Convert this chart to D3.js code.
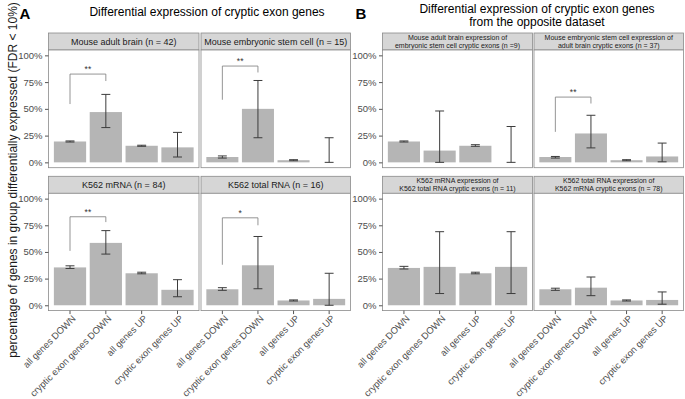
<!DOCTYPE html>
<html>
<head>
<meta charset="utf-8">
<script src="https://cdn.jsdelivr.net/npm/d3@7"></script>
<style>
  body { margin: 0; background: #fff; }
  svg { display: block; font-family: "Liberation Sans", Arial, Helvetica, sans-serif; }
</style>
</head>
<body>
<div id="chart"></div>
<script>
// Differential expression of cryptic exon genes - 8 facets, 4 bars each

const categories = ["all genes DOWN", "cryptic exon genes DOWN", "all genes UP", "cryptic exon genes UP"];

const facetLabels = [
  ["Mouse adult brain (n = 42)"],
  ["Mouse embryonic stem cell (n = 15)"],
  ["K562 mRNA (n = 84)"],
  ["K562 total RNA (n = 16)"],
  ["Mouse adult brain expression of", "embryonic stem cell cryptic exons (n =9)"],
  ["Mouse embryonic stem cell expression of", "adult brain cryptic exons (n = 37)"],
  ["K562 mRNA expression of", "K562 total RNA cryptic exons (n = 11)"],
  ["K562 total RNA expression of", "K562 mRNA cryptic exons (n = 78)"]
];

// fraction of genes differentially expressed, one row per facet
const barValues = [
  [0.195, 0.47, 0.155, 0.14],
  [0.05, 0.50, 0.02, 0.0],
  [0.355, 0.585, 0.30, 0.145],
  [0.15, 0.375, 0.045, 0.06],
  [0.195, 0.11, 0.155, 0.0],
  [0.05, 0.27, 0.02, 0.055],
  [0.35, 0.36, 0.30, 0.36],
  [0.15, 0.165, 0.045, 0.05]
];
const errLow = [
  [0.19, 0.325, 0.15, 0.05],
  [0.04, 0.23, 0.015, 0.0],
  [0.345, 0.48, 0.295, 0.08],
  [0.14, 0.155, 0.04, 0.0],
  [0.19, 0.0, 0.15, 0.0],
  [0.04, 0.135, 0.015, 0.005],
  [0.34, 0.11, 0.295, 0.11],
  [0.14, 0.09, 0.04, 0.01]
];
const errHigh = [
  [0.20, 0.635, 0.16, 0.28],
  [0.06, 0.765, 0.025, 0.23],
  [0.37, 0.70, 0.31, 0.24],
  [0.165, 0.645, 0.05, 0.30],
  [0.20, 0.48, 0.165, 0.335],
  [0.055, 0.44, 0.025, 0.18],
  [0.365, 0.69, 0.31, 0.69],
  [0.16, 0.265, 0.05, 0.125]
];

// significance brackets between bar 1 and bar 2: facet, bracket top, left tip, right tip
const sigFacets = [0, 1, 2, 3, 5];
const sigTop = [0.825, 0.90, 0.83, 0.82, 0.61];
const sigLeft = [0.545, 0.585, 0.51, 0.38, 0.285];
const sigRight = [0.76, 0.84, 0.78, 0.75, 0.55];
const sigLabels = ["**", "**", "**", "*", "**"];

const yTicks = [0, 0.25, 0.5, 0.75, 1];

const width = 685, height = 399;
const svg = d3.select("#chart").append("svg")
  .attr("width", width).attr("height", height);

// layout of the facet grid
const colX = [[48.5, 199], [201, 350.5], [382.5, 532.5], [534, 683.5]];
const rowY = [[50, 167.7], [193.3, 310.6]];
const stripH = 17;
const facetPos = [[0, 0], [0, 1], [1, 0], [1, 1], [0, 2], [0, 3], [1, 2], [1, 3]];

const barFill = "#b5b5b5";
const errColor = "#3c3c3c";
const borderColor = "#8a8a8a";
const axisText = "#4d4d4d";

facetPos.forEach(([r, c], i) => {
  const [x0, x1] = colX[c];
  const [y0, y1] = rowY[r];
  const g = svg.append("g");

  const x = d3.scaleBand().domain(categories).range([x0, x1])
    .paddingInner(0.1).paddingOuter(0.15);
  const y = d3.scaleLinear().domain([-0.05, 1.05]).range([y1, y0]);
  const step = x.step();

  // strip
  g.append("rect")
    .attr("x", x0).attr("y", y0 - stripH)
    .attr("width", x1 - x0).attr("height", stripH)
    .attr("fill", "#d6d6d6").attr("stroke", borderColor).attr("stroke-width", 0.8);

  const lines = facetLabels[i];
  if (lines.length === 1) {
    g.append("text")
      .attr("x", (x0 + x1) / 2).attr("y", y0 - stripH / 2 + 3.2)
      .attr("text-anchor", "middle").attr("font-size", "9px").attr("fill", "#1a1a1a")
      .text(lines[0]);
  } else {
    lines.forEach((t, k) => {
      g.append("text")
        .attr("x", (x0 + x1) / 2).attr("y", y0 - stripH + 6.8 + k * 8.2)
        .attr("text-anchor", "middle").attr("font-size", "7px").attr("fill", "#1a1a1a")
        .text(t);
    });
  }

  // panel background
  g.append("rect")
    .attr("x", x0).attr("y", y0).attr("width", x1 - x0).attr("height", y1 - y0)
    .attr("fill", "#fff");

  // bars
  g.selectAll(".bar").data(categories).join("rect")
    .attr("x", d => x(d))
    .attr("width", x.bandwidth())
    .attr("y", (d, j) => y(barValues[i][j]))
    .attr("height", (d, j) => y(0) - y(barValues[i][j]))
    .attr("fill", barFill);

  // error bars
  const eb = g.selectAll(".err").data(categories).join("g");
  const cap = step * 0.125;
  eb.append("line")
    .attr("x1", d => x(d) + x.bandwidth() / 2).attr("x2", d => x(d) + x.bandwidth() / 2)
    .attr("y1", (d, j) => y(errLow[i][j])).attr("y2", (d, j) => y(errHigh[i][j]));
  eb.append("line")
    .attr("x1", d => x(d) + x.bandwidth() / 2 - cap).attr("x2", d => x(d) + x.bandwidth() / 2 + cap)
    .attr("y1", (d, j) => y(errLow[i][j])).attr("y2", (d, j) => y(errLow[i][j]));
  eb.append("line")
    .attr("x1", d => x(d) + x.bandwidth() / 2 - cap).attr("x2", d => x(d) + x.bandwidth() / 2 + cap)
    .attr("y1", (d, j) => y(errHigh[i][j])).attr("y2", (d, j) => y(errHigh[i][j]));
  eb.selectAll("line").attr("stroke", errColor).attr("stroke-width", 1);

  // significance bracket
  const s = sigFacets.indexOf(i);
  if (s >= 0) {
    const xa = x(categories[0]) + x.bandwidth() / 2;
    const xb = x(categories[1]) + x.bandwidth() / 2;
    g.append("path")
      .attr("d", `M${xa},${y(sigLeft[s])}V${y(sigTop[s])}H${xb}V${y(sigRight[s])}`)
      .attr("fill", "none").attr("stroke", "#7a7a7a").attr("stroke-width", 0.8);
    g.append("text")
      .attr("x", (xa + xb) / 2).attr("y", y(sigTop[s]) - 2)
      .attr("text-anchor", "middle").attr("font-size", "8.5px").attr("fill", "#333")
      .text(sigLabels[s]);
  }

  // panel border
  g.append("rect")
    .attr("x", x0).attr("y", y0).attr("width", x1 - x0).attr("height", y1 - y0)
    .attr("fill", "none").attr("stroke", borderColor).attr("stroke-width", 0.8);

  // y axis on the left column of each block
  if (c === 0 || c === 2) {
    const ya = g.append("g").attr("transform", `translate(${x0},0)`)
      .call(d3.axisLeft(y).tickValues(yTicks).tickSize(3.5).tickPadding(2.5)
        .tickFormat(d3.format(".0%")));
    ya.select(".domain").remove();
    ya.selectAll("line").attr("stroke", "#555");
    ya.selectAll("text").attr("font-size", "9.5px").attr("fill", axisText)
      .attr("font-family", "Liberation Sans, Arial, sans-serif");
  }

  // x axis on the bottom row
  if (r === 1) {
    const xa = g.append("g").attr("transform", `translate(0,${y1})`)
      .call(d3.axisBottom(x).tickSize(3.5).tickPadding(2));
    xa.select(".domain").remove();
    xa.selectAll("line").attr("stroke", "#555");
    xa.selectAll("text")
      .attr("font-size", "9.4px").attr("fill", axisText)
      .attr("font-family", "Liberation Sans, Arial, sans-serif")
      .attr("text-anchor", "end")
      .attr("dy", "0.35em")
      .attr("transform", "translate(4,6.2) rotate(-45)")
      .attr("y", 0).attr("x", 0);
  }
});

// y axis title
svg.append("text")
  .attr("transform", "translate(17,180) rotate(-90)")
  .attr("text-anchor", "middle").attr("font-size", "12px").attr("fill", "#1a1a1a")
  .text("percentage of genes in group differentially expressed (FDR < 10%)");

// block labels and titles
svg.append("text").attr("x", 19.5).attr("y", 18.5)
  .attr("font-size", "15px").attr("font-weight", "bold").text("A");
svg.append("text").attr("x", 355.5).attr("y", 18.5)
  .attr("font-size", "15px").attr("font-weight", "bold").text("B");

svg.append("text").attr("x", 207).attr("y", 16)
  .attr("text-anchor", "middle").attr("font-size", "12px")
  .text("Differential expression of cryptic exon genes");
svg.append("text").attr("x", 537).attr("y", 12.5)
  .attr("text-anchor", "middle").attr("font-size", "12px")
  .text("Differential expression of cryptic exon genes");
svg.append("text").attr("x", 537).attr("y", 26)
  .attr("text-anchor", "middle").attr("font-size", "12px")
  .text("from the opposite dataset");
</script>
</body>
</html>
